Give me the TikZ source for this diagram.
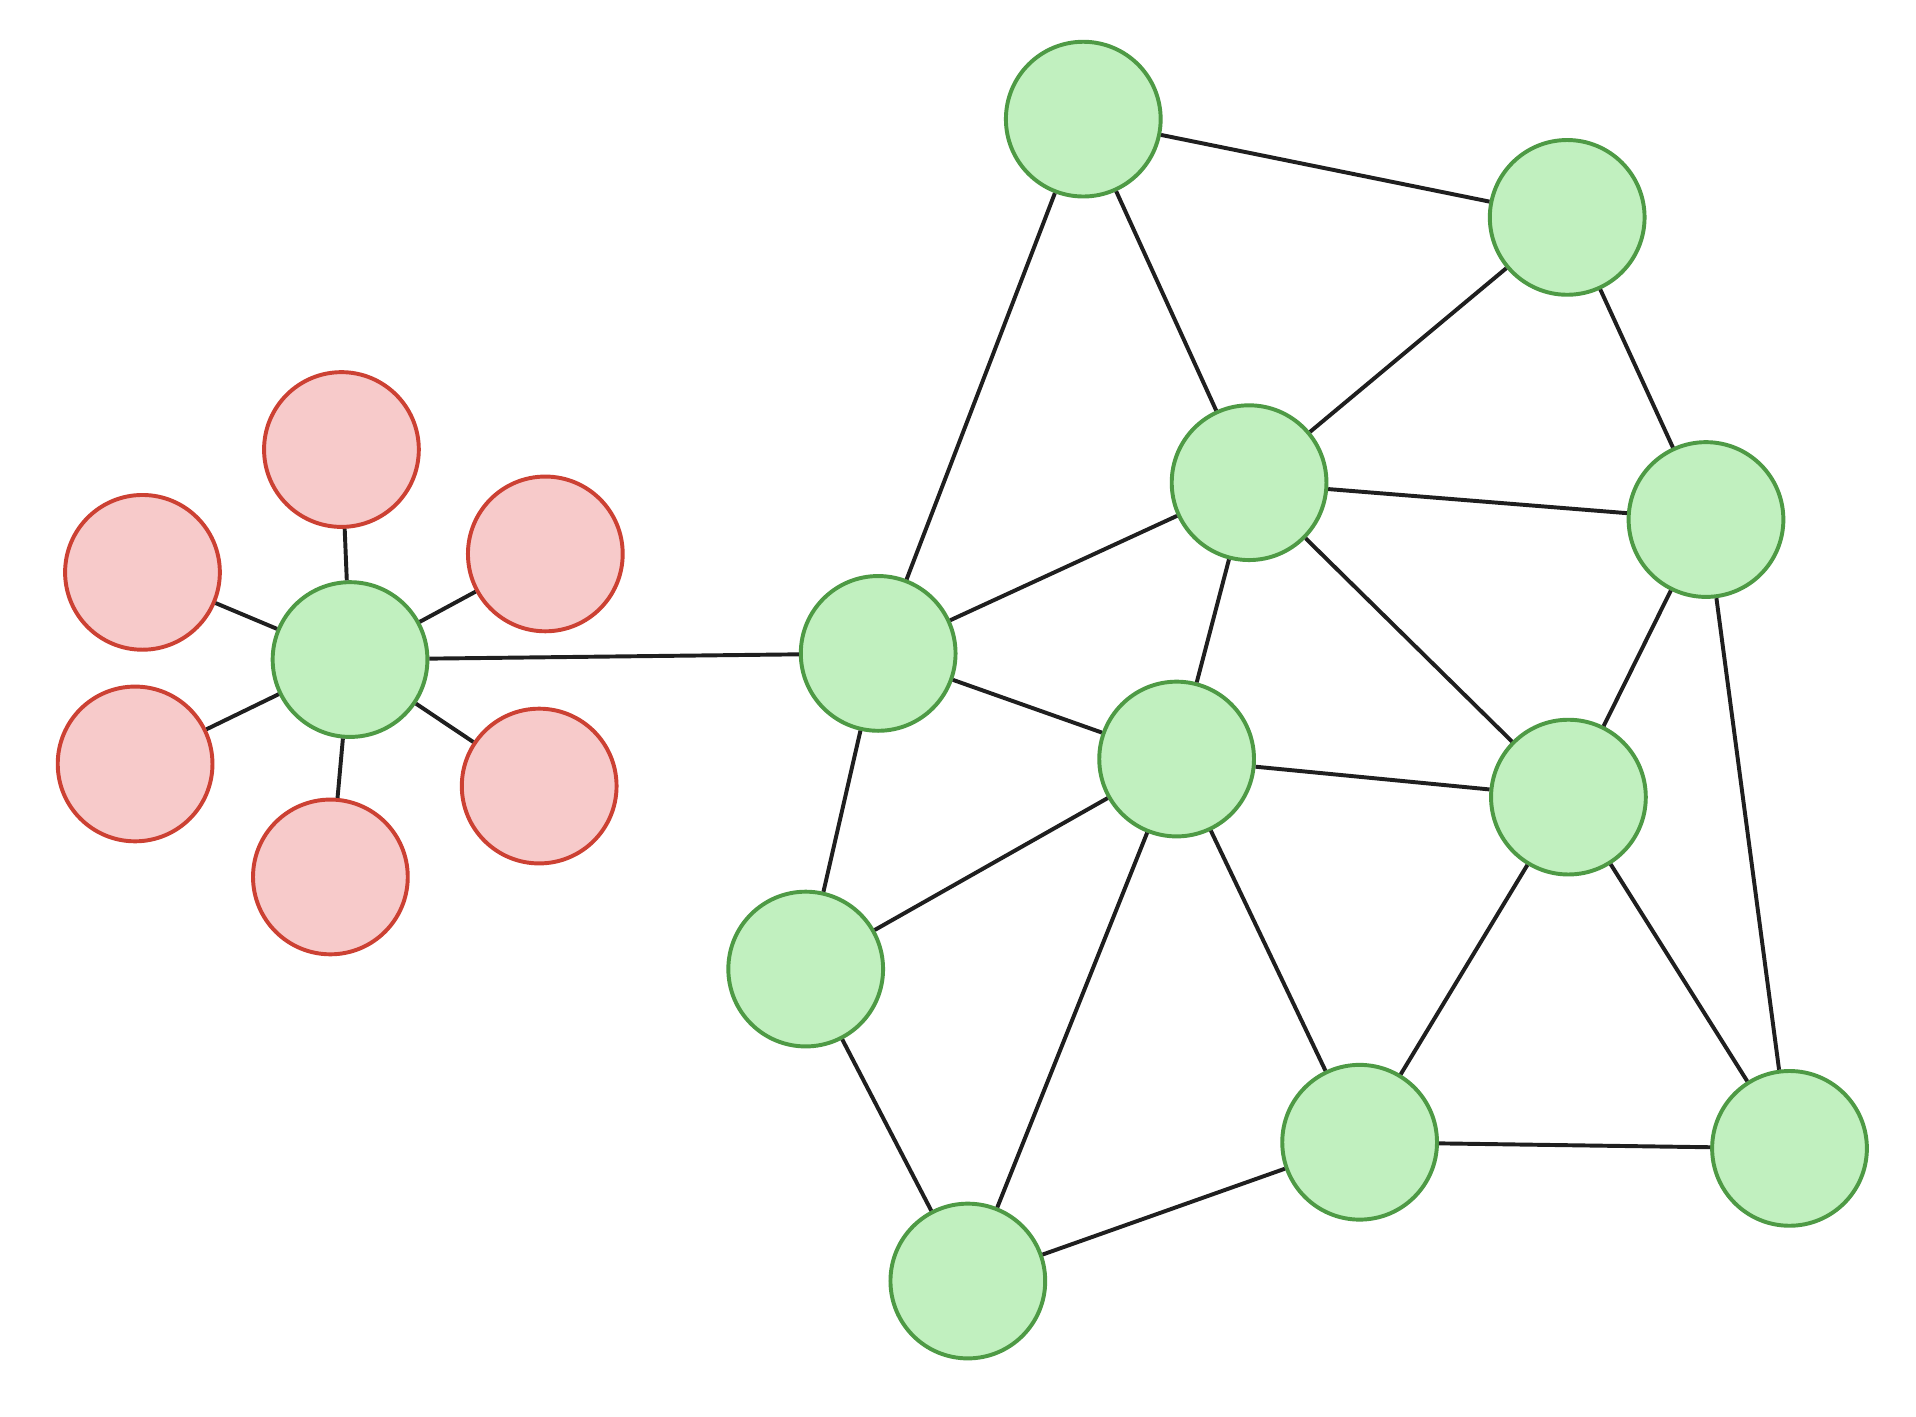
\documentclass[tikz,border=0pt]{standalone}
\begin{document}
\begin{tikzpicture}[x=1pt,y=-1pt,
  gnode/.style={circle,draw=gs,fill=gf,line width=3.2pt,minimum size=126pt,inner sep=0pt},
  rnode/.style={circle,draw=rs,fill=rf,line width=3.2pt,minimum size=126pt,inner sep=0pt},
  link/.style={draw=black!88,line width=3.2pt}]
\definecolor{gf}{HTML}{C1F0BF}\definecolor{gs}{HTML}{4E9A45}
\definecolor{rf}{HTML}{F7CACA}\definecolor{rs}{HTML}{CC4133}
\useasboundingbox[fill=white] (0,0) rectangle (1560,1153);
\node[gnode] (A) at (882,97) {};
\node[gnode] (B) at (1276,177) {};
\node[gnode] (C) at (1017,393) {};
\node[gnode] (D) at (1389,423) {};
\node[gnode] (E) at (715,532) {};
\node[gnode] (F) at (958,618) {};
\node[gnode] (G) at (1277,649) {};
\node[gnode] (H) at (656,789) {};
\node[gnode] (I) at (1107,930) {};
\node[gnode] (J) at (1457,935) {};
\node[gnode] (K) at (788,1043) {};
\node[gnode] (L) at (285,537) {};
\node[rnode] (R1) at (278,366) {};
\node[rnode] (R2) at (116,466) {};
\node[rnode] (R3) at (444,451) {};
\node[rnode] (R4) at (110,622) {};
\node[rnode] (R5) at (439,640) {};
\node[rnode] (R6) at (269,714) {};
\foreach \a/\b in {A/B,A/E,A/C,B/C,B/D,C/D,C/E,C/F,C/G,D/G,D/J,E/F,E/H,E/L,F/H,F/G,F/K,F/I,G/I,G/J,I/J,I/K,H/K,L/R1,L/R2,L/R3,L/R4,L/R5,L/R6}
  \draw[link] (\a) -- (\b);
\end{tikzpicture}
\end{document}
